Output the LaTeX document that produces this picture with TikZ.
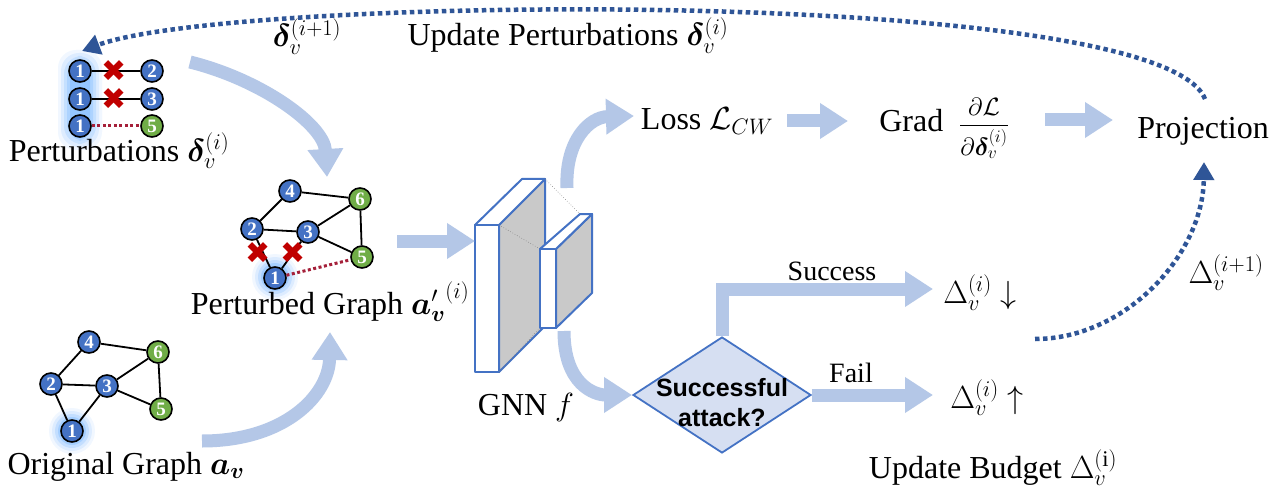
\documentclass[tikz,border=0pt]{standalone}
\usepackage{fix-cm}
\usepackage{fontspec}
\setmainfont{Liberation Serif}
\setsansfont{Liberation Sans}
\newfontfamily\symfont{DejaVu Sans}
\usepackage{amsmath}
\usepackage{bm}
\usetikzlibrary{arrows.meta,shapes.geometric}
\definecolor{dblue}{HTML}{2F5597}
\definecolor{lblue}{HTML}{B4C7E7}
\definecolor{nblue}{HTML}{4472C4}
\definecolor{ngreen}{HTML}{70AD47}
\definecolor{xred}{HTML}{C00000}
\definecolor{dred}{HTML}{A5203A}
\definecolor{dfill}{HTML}{D6DFF2}
\definecolor{sgray}{HTML}{C9C9C9}
\definecolor{glowc}{HTML}{4DA3FF}
\tikzset{
  lbl/.style={font=\fontsize{32}{37}\selectfont, inner sep=0pt},
  smlbl/.style={font=\fontsize{28}{32}\selectfont, inner sep=0pt},
  gn/.style={circle, draw=black, line width=1.6pt, fill=nblue, minimum size=22pt, inner sep=0pt, text=white, font=\bfseries\fontsize{19}{19}\selectfont},
  gg/.style={gn, fill=ngreen},
  gedge/.style={black, line width=1.8pt},
  cutedge/.style={dred, line width=3pt, dash pattern=on 3pt off 2.5pt},
  xmark/.style={text=xred, font=\symfont\fontsize{30}{30}\selectfont, inner sep=0pt},
  bigarrow/.style={lblue, line width=13pt, -{Triangle[length=28pt,width=34pt]}},
  fb/.style={dblue, line width=4.5pt, dash pattern=on 4.5pt off 3.5pt, -{Triangle[length=18pt,width=20pt]}},
  slab/.style={draw=nblue, line width=2pt, line join=round},
  guide/.style={gray, line width=0.6pt, dotted},
}
\begin{document}
\begin{tikzpicture}[x=1pt,y=-1pt]
\useasboundingbox (0,0) rectangle (1273,489);
\fill[white] (0,0) rectangle (1273,489);

% ---------- glows ----------
\foreach \d/\o in {0/0.08,3/0.12,6/0.16,9/0.2,12/0.25}
  \fill[glowc, opacity=\o, rounded corners=18pt] ({58+\d},{50+\d}) rectangle ({102-\d},{150-\d});
\foreach \r/\o in {23/0.08,20/0.12,17/0.18,14/0.25}{
  \fill[glowc, opacity=\o] (275,277) circle (\r pt);
  \fill[glowc, opacity=\o] (72,431) circle (\r pt);
}

% ---------- perturbations ----------
\node[gn] (p1a) at (80,71) {1};
\node[gn] (p2)  at (152,71) {2};
\node[gn] (p1b) at (80,99) {1};
\node[gn] (p3)  at (152,99) {3};
\node[gn] (p1c) at (80,126) {1};
\node[gg] (p5)  at (152,126) {5};
\draw[gedge] (p1a) -- (p2);
\draw[gedge] (p1b) -- (p3);
\draw[cutedge] (p1c) -- (p5);
\node[xmark] (px1) at (114,71) {✖};
\node[xmark] (px2) at (114,99) {✖};
\node[lbl, anchor=base] (plabel) at (119,161) {Perturbations $\boldsymbol{\delta}_v^{(i)}$};

% ---------- perturbed graph ----------
\node[gn] (q4) at (290,191) {4};
\node[gg] (q6) at (360,199) {6};
\node[gn] (q2) at (252,229) {2};
\node[gn] (q3) at (308,232) {3};
\node[gg] (q5) at (362,257) {5};
\node[gn] (q1) at (275,278) {1};
\draw[gedge] (q4) -- (q2);
\draw[gedge] (q4) -- (q6);
\draw[gedge] (q2) -- (q3);
\draw[gedge] (q3) -- (q6);
\draw[gedge] (q3) -- (q5);
\draw[gedge] (q6) -- (q5);
\draw[gedge] (q2) -- (q1);
\draw[gedge] (q3) -- (q1);
\draw[cutedge] (q1) -- (q5);
\node[xmark] (qx1) at (258,253) {✖};
\node[xmark] (qx2) at (293,253) {✖};
\node[lbl, anchor=base] (qlabel) at (330,314) {Perturbed Graph ${\boldsymbol{a}'_{\boldsymbol{v}}}^{(i)}$};

% ---------- original graph ----------
\node[gn] (o4) at (89,342) {4};
\node[gg] (o6) at (158,352) {6};
\node[gn] (o2) at (51,384) {2};
\node[gn] (o3) at (107,386) {3};
\node[gg] (o5) at (161,409) {5};
\node[gn] (o1) at (72,431) {1};
\draw[gedge] (o4) -- (o2);
\draw[gedge] (o4) -- (o6);
\draw[gedge] (o2) -- (o3);
\draw[gedge] (o3) -- (o6);
\draw[gedge] (o3) -- (o5);
\draw[gedge] (o6) -- (o5);
\draw[gedge] (o2) -- (o1);
\draw[gedge] (o3) -- (o1);
\node[lbl, anchor=base] (olabel) at (126,474) {Original Graph $\boldsymbol{a}_{\boldsymbol{v}}$};

% ---------- GNN ----------
\draw[slab, fill=sgray] (499,225) -- (545,179) -- (545,326) -- (499,372) -- cycle;
\draw[slab, fill=white] (475,225) -- (522,179) -- (545,179) -- (499,225) -- cycle;
\draw[slab, fill=white] (475,225) rectangle (499,372);
\draw[guide] (545,179) -- (580,214);
\draw[guide] (499,225) -- (540,249);
\draw[guide] (499,372) -- (540,328);
\draw[slab, fill=sgray] (556,249) -- (592,214) -- (592,293) -- (556,328) -- cycle;
\draw[slab, fill=white] (540,249) -- (580,214) -- (592,214) -- (556,249) -- cycle;
\draw[slab, fill=white] (540,249) rectangle (556,328);
\coordinate (gnnin) at (475,241);
\coordinate (gnntop) at (567,188);
\coordinate (gnnbot) at (564,331);
\node[lbl, anchor=base] (gnnlabel) at (526,415) {GNN $f$};

% ---------- right part ----------
\node[lbl, anchor=base] (loss) at (707,130) {Loss $\mathcal{L}_{CW}$};
\node[lbl, anchor=base] (grad) at (944,132) {Grad\ \ {\fontsize{25}{30}\selectfont$\dfrac{\partial\mathcal{L}}{\partial\boldsymbol{\delta}_v^{(i)}}$}};
\node[lbl, anchor=base] (proj) at (1203,139) {Projection};

\node[diamond, draw=nblue, fill=dfill, line width=1.8pt, minimum width=178pt, minimum height=116pt, inner sep=0pt] (dec) at (722,395) {};
\node[font=\sffamily\bfseries\fontsize{25}{30}\selectfont, align=center, inner sep=0pt] (dectext) at (722,403) {Successful\\attack?};

\node[smlbl, anchor=base] (succ) at (832,280) {Success};
\node[smlbl, anchor=base] (fail) at (851,382) {Fail};
\node[lbl, anchor=base] (ddown) at (980,303) {$\Delta_v^{(i)}\downarrow$};
\node[lbl, anchor=base] (dup) at (987,408) {$\Delta_v^{(i)}\uparrow$};
\node[lbl, anchor=base] (budget) at (993,478) {Update Budget $\Delta_v^{(\mathrm{i})}$};
\node[lbl, anchor=base] (dnext2) at (1226,283) {$\Delta_v^{(i+1)}$};

\node[lbl, anchor=base] (dnext) at (307,47) {$\boldsymbol{\delta}_v^{(i+1)}$};
\node[lbl, anchor=base] (updp) at (568,46) {Update Perturbations $\boldsymbol{\delta}_v^{(i)}$};

% ---------- thick arrows ----------
\coordinate (a1s) at (190,62);  \coordinate (a1e) at (327,177);
\coordinate (a2s) at (202,441); \coordinate (a2e) at (330,332);
\coordinate (a3s) at (397,241);
\coordinate (lossin) at (634,116);
\coordinate (decin) at (632,395);
\coordinate (a6s) at (787,121); \coordinate (a6e) at (848,121);
\coordinate (a7s) at (1045,120); \coordinate (a7e) at (1113,120);
\coordinate (succe) at (933,289);
\coordinate (faile) at (933,395);

\draw[bigarrow] (a1s) .. controls (262,80) and (324,125) .. (a1e);
\draw[bigarrow] (a2s) .. controls (285,441) and (329,395) .. (a2e);
\draw[bigarrow] (a3s) -- (gnnin);
\draw[bigarrow] (gnntop) .. controls (565,140) and (590,117) .. (lossin);
\draw[bigarrow] (gnnbot) .. controls (564,385) and (595,395) .. (decin);
\draw[bigarrow] (a6s) -- (a6e);
\draw[bigarrow] (a7s) -- (a7e);
\draw[bigarrow, line join=miter] (dec.north) |- (succe);
\draw[bigarrow] (dec.east) -- (faile);

% ---------- dotted feedback arrows ----------
\coordinate (fb1s) at (1205,99);
\coordinate (fb1e) at (82,51);
\draw[fb] (fb1s) .. controls (1160,-15) and (230,-5) .. (fb1e);
\coordinate (fb2s) at (1035,339);
\coordinate (fb2e) at (1204,162);
\draw[fb] (fb2s) .. controls (1125,339) and (1203,255) .. (fb2e);
\end{tikzpicture}
\end{document}
